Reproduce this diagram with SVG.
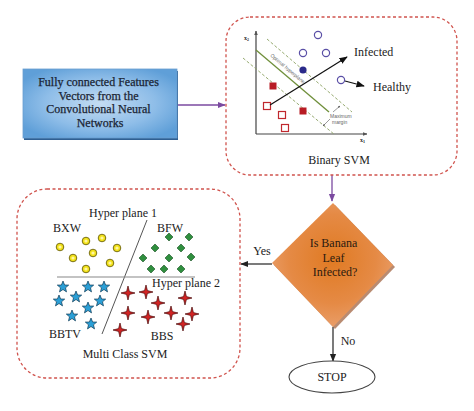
<svg xmlns="http://www.w3.org/2000/svg" width="474" height="411" viewBox="0 0 474 411">
<defs>
<radialGradient id="gBlue" cx="0.5" cy="0.5" r="0.6">
<stop offset="0" stop-color="#c4dcf2"/>
<stop offset="0.6" stop-color="#8ebde8"/>
<stop offset="1" stop-color="#5f9fd8"/>
</radialGradient>
<radialGradient id="gOrange" cx="0.5" cy="0.45" r="0.6">
<stop offset="0" stop-color="#e07a22"/>
<stop offset="0.6" stop-color="#e58a45"/>
<stop offset="1" stop-color="#eaa271"/>
</radialGradient>
<marker id="aPurple" viewBox="0 0 10 10" refX="9" refY="5" markerWidth="6" markerHeight="6" orient="auto">
<path d="M0,1 L10,5 L0,9 Z" fill="#7b4aa0"/>
</marker>
<marker id="aDark" viewBox="0 0 10 10" refX="9" refY="5" markerWidth="6" markerHeight="6" orient="auto">
<path d="M0,1 L10,5 L0,9 Z" fill="#222"/>
</marker>
<marker id="aBlack" viewBox="0 0 10 10" refX="9" refY="5" markerWidth="7" markerHeight="7" orient="auto">
<path d="M0,1 L10,5 L0,9 Z" fill="#111"/>
</marker>
<marker id="aSmall" viewBox="0 0 10 10" refX="9" refY="5" markerWidth="4" markerHeight="4" orient="auto">
<path d="M0,1 L10,5 L0,9 Z" fill="#555"/>
</marker>
<g id="yc"><circle r="3.8" fill="#f3e21a" stroke="#5a5200" stroke-width="0.8"/><circle r="1.6" fill="#fff6a0"/></g>
<path id="gd" d="M0,-4 L4,0 L0,4 L-4,0 Z" fill="#2f8f3e" stroke="#1a4d22" stroke-width="0.6"/>
<path id="bs" d="M0,-6 L1.6,-2 L5.7,-1.9 L2.5,0.8 L3.5,4.9 L0,2.5 L-3.5,4.9 L-2.5,0.8 L-5.7,-1.9 L-1.6,-2 Z" fill="#2b9fd6" stroke="#0e3a55" stroke-width="0.7"/>
<path id="rs" d="M0,-7 L1.4,-1.4 L7,0 L1.4,1.4 L0,7 L-1.4,1.4 L-7,0 L-1.4,-1.4 Z" fill="#d22424" stroke="#4a0a0a" stroke-width="0.7"/>
</defs>
<style>
text{font-family:"Liberation Serif","Times New Roman",serif;fill:#222}
.lbl{font-size:12px}
.dash{fill:none;stroke:#d0534d;stroke-width:1.3;stroke-dasharray:3,2.5}
.pur{stroke:#7b4aa0;stroke-width:1.3;fill:none}
.dk{stroke:#333;stroke-width:1.3;fill:none}
.ax{stroke:#444;stroke-width:1.2;fill:none}
.gd2{stroke:#8aa060;stroke-width:0.9;stroke-dasharray:3,2;fill:none}
.oc{fill:#fff;stroke:#5a4fa6;stroke-width:1.2}
.os{fill:#fff;stroke:#c0282e;stroke-width:1.2}
.fs{fill:#b81c24}
.tiny{font-family:"Liberation Sans",Arial,sans-serif;font-size:5px;fill:#666}
</style>
<rect width="474" height="411" fill="#fff"/>

<g id="connectors">
<line class="pur" x1="177" y1="105" x2="225" y2="105" marker-end="url(#aPurple)"/>
<line class="pur" x1="332" y1="175" x2="332" y2="201" marker-end="url(#aPurple)"/>
<line class="dk" x1="272" y1="264" x2="241" y2="264" marker-end="url(#aDark)"/>
<text class="lbl" x="262" y="255" text-anchor="middle">Yes</text>
<line class="dk" x1="333" y1="327" x2="333" y2="361" marker-end="url(#aDark)"/>
<text class="lbl" x="348" y="345" text-anchor="middle">No</text>
</g>

<g id="features">
<rect x="24" y="71" width="154" height="69" fill="#2f5f92"/>
<rect x="23" y="69" width="154" height="69" fill="url(#gBlue)" stroke="#6a9fd0" stroke-width="0.8"/>
<text class="lbl" text-anchor="middle" style="fill:#1a2433;stroke:#1a2433;stroke-width:0.25">
<tspan x="100" y="86">Fully connected Features</tspan>
<tspan x="100" y="100">Vectors from the</tspan>
<tspan x="100" y="113">Convolutional Neural</tspan>
<tspan x="100" y="127">Networks</tspan>
</text>
</g>

<g id="binary-svm">
<rect class="dash" x="226" y="17" width="231" height="158" rx="24"/>
<line class="ax" x1="256" y1="134" x2="256" y2="31" marker-end="url(#aSmall)"/>
<line class="ax" x1="256" y1="134" x2="367" y2="134" marker-end="url(#aSmall)"/>
<text x="244" y="40" font-size="6" font-weight="bold">x<tspan font-size="4" dy="1">2</tspan></text>
<text x="360" y="142" font-size="6" font-weight="bold">x<tspan font-size="4" dy="1">1</tspan></text>
<line x1="256" y1="50" x2="329" y2="112" stroke="#6f8f3a" stroke-width="1.3"/>
<line class="gd2" x1="267" y1="39" x2="352" y2="112"/>
<line class="gd2" x1="243" y1="58" x2="335" y2="135"/>
<text class="tiny" transform="translate(270,56) rotate(40)">Optimal hyperplane</text>
<text class="tiny" x="330" y="118">Maximum</text>
<text class="tiny" x="332" y="124">margin</text>
<line x1="333" y1="112" x2="340" y2="106" stroke="#555" stroke-width="0.6" marker-end="url(#aSmall)"/>
<line x1="330" y1="119" x2="323" y2="126" stroke="#555" stroke-width="0.6" marker-end="url(#aSmall)"/>
<circle class="oc" cx="318" cy="35" r="3.6"/>
<circle class="oc" cx="303" cy="53" r="3.6"/>
<circle class="oc" cx="326" cy="53" r="3.6"/>
<circle cx="303" cy="70" r="3.6" fill="#2a2a8a"/>
<circle class="oc" cx="341" cy="80" r="3.6"/>
<rect class="fs" x="269.5" y="82.5" width="7" height="7"/>
<rect class="fs" x="299.5" y="107.5" width="7" height="7"/>
<rect class="os" x="263.5" y="102.5" width="7" height="7"/>
<rect class="os" x="278.5" y="111.5" width="7" height="7"/>
<rect class="os" x="281.5" y="124.5" width="7" height="7"/>
<line x1="270" y1="105" x2="347" y2="57" stroke="#111" stroke-width="1.2" marker-end="url(#aBlack)"/>
<line x1="345" y1="81" x2="364" y2="86" stroke="#111" stroke-width="1.2" marker-end="url(#aBlack)"/>
<text class="lbl" x="354" y="56">Infected</text>
<text class="lbl" x="373" y="91">Healthy</text>
<text class="lbl" x="339" y="164" text-anchor="middle">Binary SVM</text>
</g>

<g id="decision">
<path d="M335,205 L395,267 L335,329 L274,265 Z" fill="#8a3e12" opacity="0.6"/>
<path d="M333,203 L393,265 L333,327 L272,263 Z" fill="url(#gOrange)"/>
<text class="lbl" text-anchor="middle" style="fill:#2a1a10">
<tspan x="335" y="247">Is Banana</tspan>
<tspan x="335" y="262">Leaf</tspan>
<tspan x="335" y="276">Infected?</tspan>
</text>
</g>

<g id="stop">
<ellipse cx="332" cy="377" rx="43" ry="16" fill="#fff" stroke="#444" stroke-width="1.1"/>
<text class="lbl" x="332" y="381" text-anchor="middle">STOP</text>
</g>

<g id="multi-class-svm">
<rect class="dash" x="17" y="189" width="223" height="189" rx="30"/>
<line x1="147" y1="220" x2="102" y2="334" stroke="#555" stroke-width="1"/>
<line x1="57" y1="277" x2="195" y2="277" stroke="#888" stroke-width="1.2"/>
<text class="lbl" x="123" y="217" text-anchor="middle">Hyper plane 1</text>
<text class="lbl" x="152" y="287">Hyper plane 2</text>
<text class="lbl" x="67" y="232" text-anchor="middle">BXW</text>
<text class="lbl" x="170" y="232" text-anchor="middle">BFW</text>
<text class="lbl" x="65" y="338" text-anchor="middle">BBTV</text>
<text class="lbl" x="162" y="340" text-anchor="middle">BBS</text>
<text class="lbl" x="125" y="358" text-anchor="middle">Multi Class SVM</text>
<use href="#yc" x="60" y="247"/>
<use href="#yc" x="86" y="241"/>
<use href="#yc" x="102" y="238"/>
<use href="#yc" x="117" y="248"/>
<use href="#yc" x="93" y="253"/>
<use href="#yc" x="73" y="258"/>
<use href="#yc" x="110" y="263"/>
<use href="#yc" x="86" y="269"/>
<use href="#gd" x="169" y="237"/>
<use href="#gd" x="189" y="237"/>
<use href="#gd" x="155" y="248"/>
<use href="#gd" x="181" y="248"/>
<use href="#gd" x="143" y="258"/>
<use href="#gd" x="169" y="258"/>
<use href="#gd" x="191" y="257"/>
<use href="#gd" x="151" y="269"/>
<use href="#gd" x="164" y="269"/>
<use href="#gd" x="181" y="269"/>
<use href="#bs" x="63" y="287"/>
<use href="#bs" x="88" y="287"/>
<use href="#bs" x="104" y="287"/>
<use href="#bs" x="76" y="297"/>
<use href="#bs" x="59" y="301"/>
<use href="#bs" x="100" y="301"/>
<use href="#bs" x="88" y="308"/>
<use href="#bs" x="72" y="316"/>
<use href="#bs" x="91" y="324"/>
<use href="#rs" x="128" y="293"/>
<use href="#rs" x="146" y="292"/>
<use href="#rs" x="185" y="298"/>
<use href="#rs" x="158" y="303"/>
<use href="#rs" x="128" y="313"/>
<use href="#rs" x="148" y="317"/>
<use href="#rs" x="171" y="313"/>
<use href="#rs" x="192" y="314"/>
<use href="#rs" x="183" y="324"/>
<use href="#rs" x="120" y="330"/>
</g>
</svg>
